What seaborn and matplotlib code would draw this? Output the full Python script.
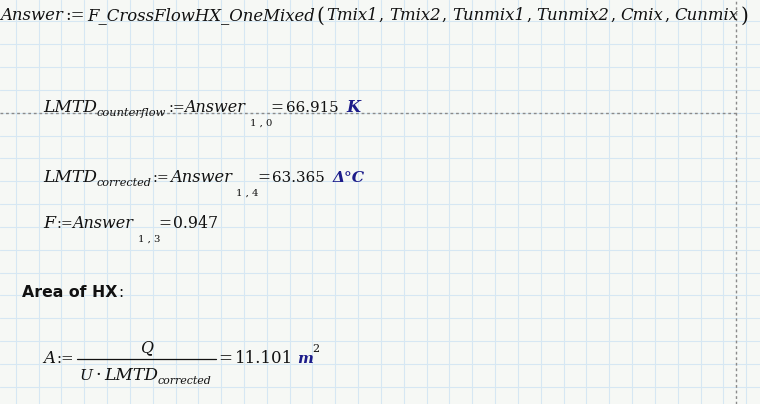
import numpy as np
import seaborn as sns
import matplotlib.pyplot as plt

# ---- worksheet content ----
func_name = "F_CrossFlowHX_OneMixed"
func_args = ["Tmix1", "Tmix2", "Tunmix1", "Tunmix2", "Cmix", "Cunmix"]
lmtd_subs = ["counterflow", "corrected"]
answer_index = ["1 , 0", "1 , 4", "1 , 3"]
result_values = [66.915, 63.365, 0.947, 11.101]
result_units = ["K", "Δ°C", "", "m"]
section_title = "Area of HX"
# ---------------------------

sns.set_style("whitegrid", rc={
    "axes.facecolor": "#f6f8f5",
    "figure.facecolor": "#f6f8f5",
    "grid.color": "#d6e7f3",
    "grid.linewidth": 1.0,
    "axes.edgecolor": "none",
})

SERIF = "DejaVu Serif"
INK = "#111111"
UNIT = "#1c1c8a"

fig = plt.figure(figsize=(7.6, 4.04), dpi=100)
ax = fig.add_axes([0, 0, 1, 1])
ax.set_xlim(0, 760)
ax.set_ylim(404, 0)
ax.set_xticks(np.arange(15.7, 760, 22.83))
ax.set_yticks(np.arange(21.3, 404, 22.84))
ax.tick_params(length=0, labelbottom=False, labelleft=False)
ax.grid(True)

# region boundary lines
ax.plot([0, 736], [112.7, 112.7], ls=(0, (2, 2)), color="#8a8a8a", lw=1.0)
ax.axvline(736, ls=(0, (2, 2)), color="#8a8a8a", lw=1.0)

renderer = fig.canvas.get_renderer()


def put(x0, x1, y, s, size=12, italic=True, bold=False, color=INK,
        family=SERIF, lo=0.9, hi=1.12):
    # draw text starting at x0 and let its size settle so it ends near x1
    t = ax.text(x0, y, s, ha="left", va="baseline", fontsize=size,
                family=family, style="italic" if italic else "normal",
                weight="bold" if bold else "normal", color=color)
    if x1 is not None:
        w = t.get_window_extent(renderer).width
        k = min(max((x1 - x0) / w, lo), hi)
        t.set_fontsize(size * k)
    return t


def run(x, y, pieces, scale=1.0):
    # lay pieces out left to right: (text, size, italic, dy, gap after)
    texts = []
    for s, size, italic, dy, gap in pieces:
        t = ax.text(x, y + dy, s, ha="left", va="baseline",
                    fontsize=size * scale, family=SERIF, color=INK,
                    style="italic" if italic else "normal")
        x += t.get_window_extent(renderer).width + gap * scale
        texts.append(t)
    return x, texts


# Answer := F_CrossFlowHX_OneMixed(...)
line1 = [("Answer", 11.5, True, 0, 2), (":=", 11.5, False, 0, 3),
         (func_name, 11.5, True, 0, 1), ("(", 14, False, 2, 2)]
for j, a in enumerate(func_args):
    line1.append((a, 11.5, True, 0, 1))
    if j < len(func_args) - 1:
        line1.append((",", 11.5, False, 0, 5))
line1[-1] = (func_args[-1], 11.5, True, 0, 2)
line1.append((")", 14, False, 2, 0))

x_end, tmp = run(0, 20, line1)
for t in tmp:
    t.remove()
run(0, 20, line1, scale=750 / x_end)

# LMTD rows and F row: (baseline, name span, sub span, := x, Answer span,
# index x, = x, value span, unit span)
rows = [
    (112, (43, 97), (97, 166), 168, (184, 245), 250, 270, (286, 338), (346, 360)),
    (182, (43, 97), (97, 152), 153, (170, 232), 236, 257, (272, 322), (333, 365)),
    (228, (43, 55), None, 56, (72, 133), 138, 158, (173, 218), None),
]
for i, (y, nm, sb, xa, an, xi, xe, vl, un) in enumerate(rows):
    if sb is None:
        put(nm[0], nm[1], y, "F")
    else:
        put(nm[0], nm[1], y, "LMTD")
        put(sb[0], sb[1], y + 4, lmtd_subs[i], size=8.5)
    put(xa, xa + 12, y, ":=", italic=False, lo=0.85)
    put(an[0], an[1], y, "Answer")
    put(xi, xi + 20, y + 14, answer_index[i], size=8, italic=False)
    put(xe, xe + 13, y, "=", italic=False)
    put(vl[0], vl[1], y, f"{result_values[i]:.3f}", italic=False)
    if un is not None:
        put(un[0], un[1], y, result_units[i], bold=True, color=UNIT)

# Area of HX:
t = put(22, 117, 297, section_title, size=11, italic=False, bold=True,
        family="DejaVu Sans")
x_end = t.get_window_extent(renderer).x1
put(x_end + 1, None, 297, ":", size=11, italic=False, family="DejaVu Sans")

# A := Q / (U * LMTD_corrected) = 11.101 m^2
put(43, 55, 363, "A")
put(57, 73, 363, ":=", italic=False)
ax.plot([77, 216], [358.5, 358.5], color=INK, lw=0.9)
put(140, 153, 352, "Q")
put(80, 93, 380, "U")
put(95, None, 380, "·", italic=False, size=13)
put(104, 158, 380, "LMTD")
put(158, 212, 384, lmtd_subs[1], size=8.5)
put(218, 232, 363, "=", italic=False)
put(235, 293, 363, f"{result_values[3]:.3f}", italic=False)
put(297, 308, 363, result_units[3], bold=True, color=UNIT)
put(312, None, 352, "2", size=8, italic=False)

fig.savefig("out.png", dpi=100)
